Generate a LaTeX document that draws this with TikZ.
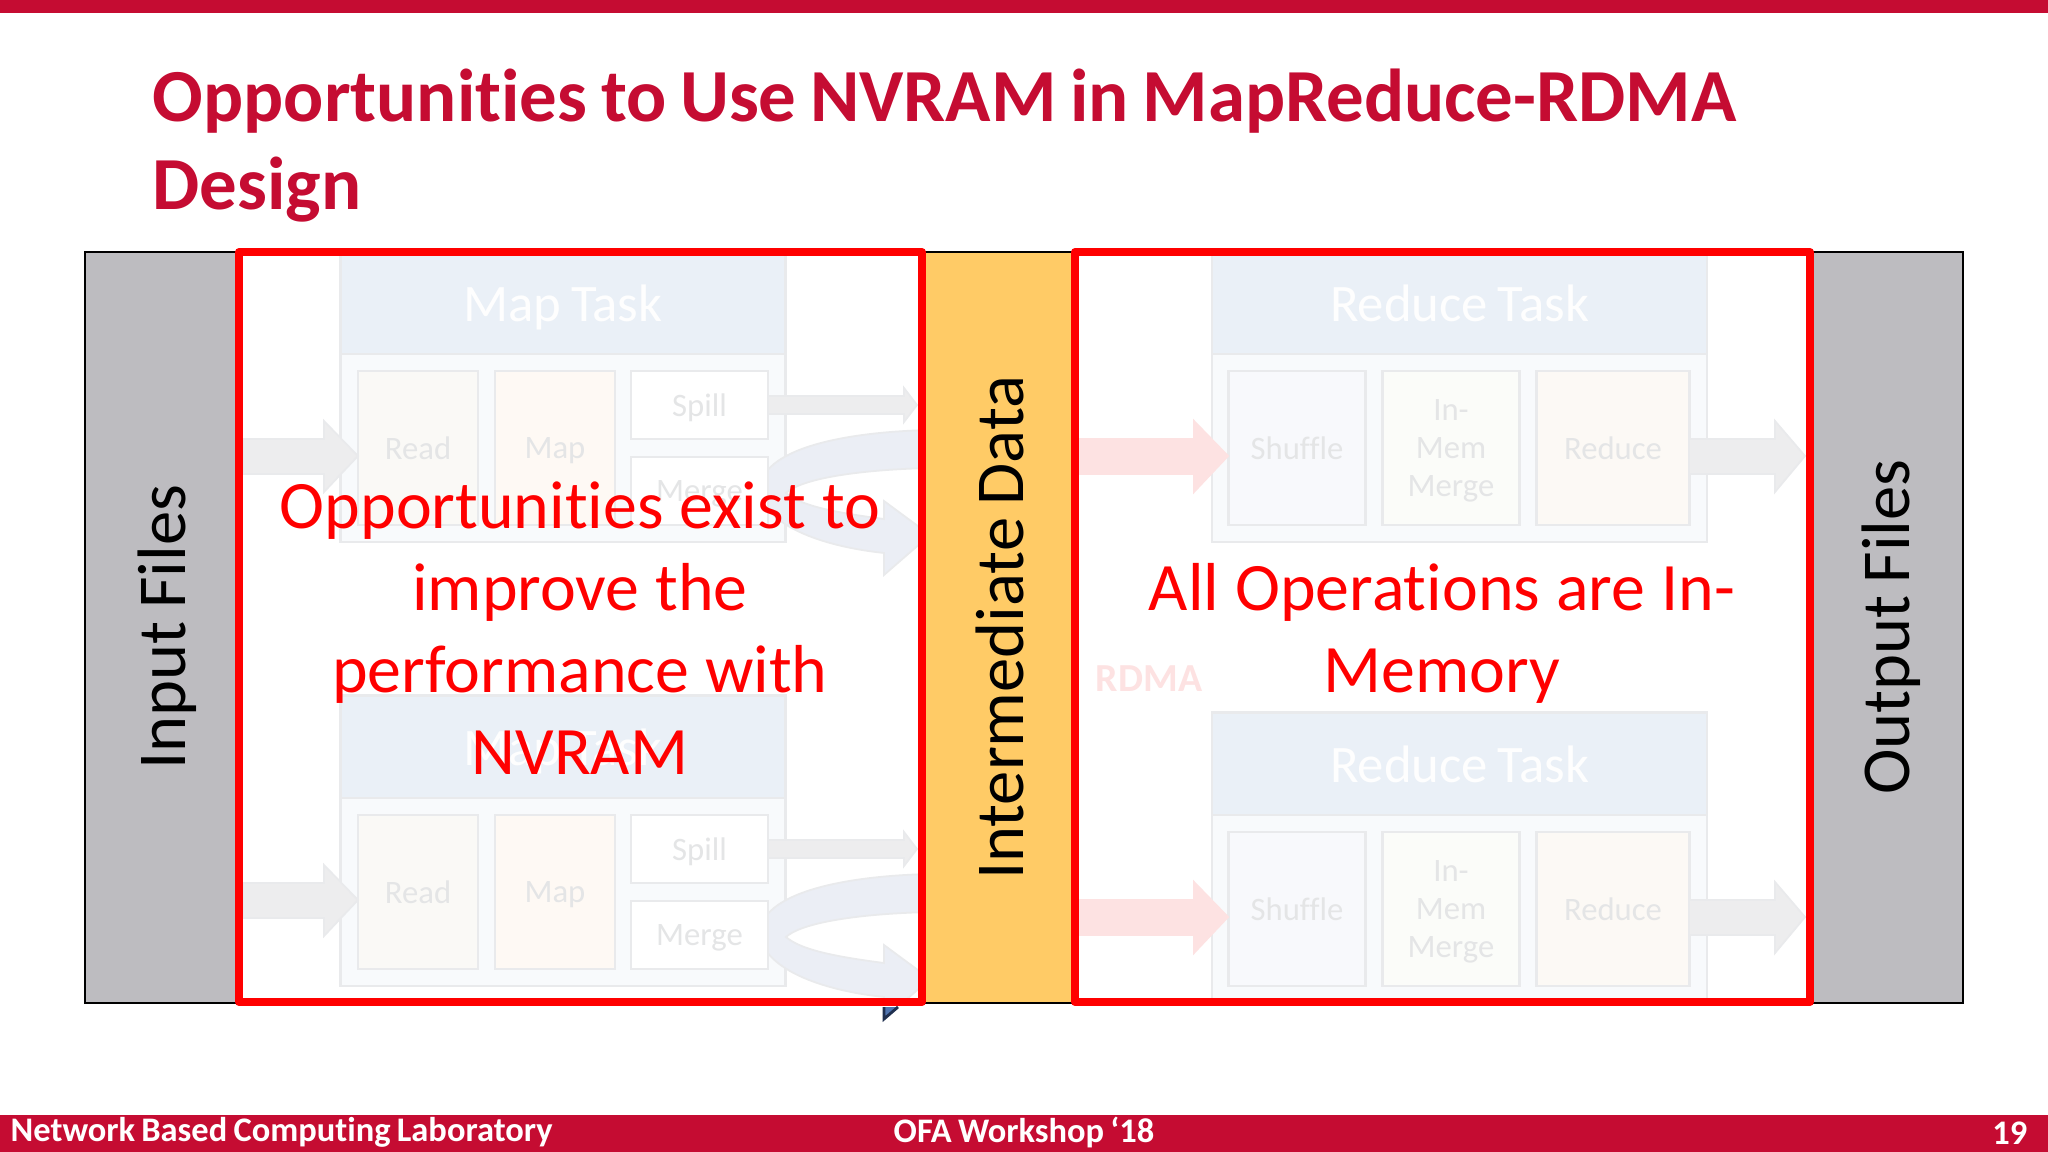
\documentclass[tikz,border=0pt]{standalone}
\usepackage{xcolor}
\usepackage{fontspec}
\setmainfont[Ligatures=NoCommon, WordSpace=0.8]{Carlito}
\newfontfamily\redfont[Ligatures=NoCommon, WordSpace=1.05]{Carlito}
\usetikzlibrary{positioning}

\definecolor{barred}{HTML}{C50C32}
\definecolor{sidegray}{HTML}{BDBCC0}
\definecolor{dataorange}{HTML}{FFCB66}
\definecolor{paleline}{HTML}{E9EAEC}
\definecolor{paletext}{HTML}{E4E5E6}
\definecolor{headfill}{HTML}{EAF0F7}
\definecolor{bodyfill}{HTML}{F8FAFC}
\definecolor{arrowgray}{HTML}{EDEDEE}
\definecolor{arrowpink}{HTML}{FDE2E2}
\definecolor{curvefill}{HTML}{EBEEF5}
\definecolor{readfill}{HTML}{FAF9F6}
\definecolor{mapfill}{HTML}{FEF9F4}
\definecolor{shufflefill}{HTML}{F8F9FC}
\definecolor{memfill}{HTML}{FBFCF9}
\definecolor{reducefill}{HTML}{FCF9F5}
\definecolor{tipfill}{HTML}{4F74B0}
\definecolor{tipline}{HTML}{1F2F4F}

\tikzset{
    taskhead/.style={draw=paleline, fill=headfill, line width=0.6pt, outer sep=0pt, minimum width=#1, minimum height=103*0.01cm, inner sep=0pt, text=white!95!headfill, text height=2.5ex, text depth=0.3ex, font=\fontsize{15}{17}\selectfont},
    taskbody/.style={draw=paleline, fill=bodyfill, line width=0.6pt, outer sep=0pt, minimum width=#1, minimum height=188*0.01cm, inner sep=0pt},
    stepbox/.style={draw=paleline, line width=0.6pt, outer sep=0pt, inner sep=0pt, text=paletext, text depth=0pt, align=center, font=\fontsize{9.3}{10.8}\selectfont},
    blockarrow/.style={fill=arrowgray, draw=paleline, line width=0.5pt},
    sidelabel/.style={rotate=90, inner sep=0pt, text=black, font=\fontsize{19.5}{23}\selectfont},
    redlabel/.style={align=flush center, inner sep=0pt, text=red, font=\redfont\fontsize{19.3}{23.3}\selectfont},
    footlabel/.style={inner sep=0pt, text=white, font=\bfseries\fontsize{9.8}{11}\selectfont}
}

\begin{document}
\begin{tikzpicture}[x=0.01cm, y=-0.01cm]
        \useasboundingbox (0,0) rectangle (2048,1152);
        \fill [white] (0,0) rectangle (2048,1152);

        % Bars
        \fill [barred] (0,0) rectangle (2048,13);
        \fill [barred] (0,1115) rectangle (2048,1152);
        \node [footlabel, anchor=west] (lab) at (10,1132) {Network Based Computing Laboratory};
        \node [footlabel] (workshop) at (1024,1132) {OFA Workshop ‘18};
        \node [footlabel, anchor=east] (pagenum) at (2028,1133) {19};

        % Title
        \node [anchor=west, inner sep=0pt, text=barred, font=\bfseries\fontsize{21.3}{25}\selectfont] (title1) at (152,101) {Opportunities to Use NVRAM in MapReduce-RDMA};
        \node [anchor=west, inner sep=0pt, text=barred, font=\bfseries\fontsize{21.3}{25}\selectfont] (title2) at (152,190) {Design};

        % Frame
        \draw [black, line width=0.5pt, fill=sidegray] (85,252) rectangle (1963,1003);
        \fill [dataorange] (925,252) rectangle (1075,1003);
        \draw [black, line width=0.5pt] (85,252) rectangle (1963,1003);
        \node [sidelabel] (input) at (167,627) {Input Files};
        \node [sidelabel] (inter) at (1000,628) {Intermediate Data};
        \node [sidelabel] (output) at (1891,627) {Output Files};

        % Tip left outside the box
        \draw [fill=tipfill, draw=tipline, line width=0.8pt] (884,1007) -- (884,1019) -- (898,1007);

        \fill [white] (239,252) rectangle (922,1002);
        \fill [white] (1075,252) rectangle (1810,1002);

        % Map tasks
        \foreach \dy in {0,444} {
            \node [taskhead=445*0.01cm] (maphead\dy) at (563,303+\dy) {Map Task};
            \node [taskbody=445*0.01cm] (mapbody\dy) at (563,448+\dy) {};

            % Merge loop sits behind the boxes
            \begin{scope}
                \clip (243,256) rectangle (918,998);
                \draw [fill=curvefill, draw=paleline, line width=0.5pt, shift={(0,\dy)}]
                    (930,430) .. controls (840,432) and (760,450) .. (760,490)
                    .. controls (762,520) and (810,545) .. (884,553)
                    -- (884,575) -- (930,535) -- (884,501) -- (884,519)
                    .. controls (830,512) and (800,505) .. (786,493)
                    .. controls (800,480) and (850,470) .. (930,468) -- cycle;
            \end{scope}

            \node [stepbox, fill=readfill, minimum width=120*0.01cm, minimum height=154*0.01cm] (read\dy) at (418,448+\dy) {Read};
            \node [stepbox, fill=mapfill, minimum width=120*0.01cm, minimum height=154*0.01cm, right=17*0.01cm of read\dy] (map\dy) {Map};
            \node [stepbox, fill=white, minimum width=137*0.01cm, minimum height=68*0.01cm] (spill\dy) at (699.5,405+\dy) {Spill};
            \node [stepbox, fill=white, minimum width=137*0.01cm, minimum height=68*0.01cm] (merge\dy) at (699.5,491+\dy) {Merge};

            \coordinate (inmap\dy) at (358,456+\dy);
            \draw [blockarrow] (inmap\dy) -- ++(-34,-35) -- ++(0,18) -- ++(-81,0) -- ++(0,35) -- ++(81,0) -- ++(0,18) -- cycle;
            \coordinate (outspill\dy) at (917,405+\dy);
            \draw [blockarrow] (outspill\dy) -- ++(-13,-17) -- ++(0,8) -- ++(-136,0) -- ++(0,18) -- ++(136,0) -- ++(0,8) -- cycle;
        }

        % Reduce tasks
        \foreach \dy in {0,461} {
            \node [taskhead=495*0.01cm] (redhead\dy) at (1459.5,303+\dy) {Reduce Task};
            \node [taskbody=495*0.01cm] (redbody\dy) at (1459.5,448+\dy) {};
            \node [stepbox, fill=shufflefill, minimum width=137*0.01cm, minimum height=154*0.01cm] (shuffle\dy) at (1297,448+\dy) {Shuffle};
            \node [stepbox, fill=memfill, minimum width=137*0.01cm, minimum height=154*0.01cm, right=17*0.01cm of shuffle\dy] (inmem\dy) {In-\\Mem\\Merge};
            \node [stepbox, fill=reducefill, minimum width=153*0.01cm, minimum height=154*0.01cm, right=17*0.01cm of inmem\dy] (reduce\dy) {Reduce};

            \coordinate (inred\dy) at (1228,456+\dy);
            \draw [blockarrow, fill=arrowpink, draw=arrowpink] (inred\dy) -- ++(-34,-35) -- ++(0,18) -- ++(-114,0) -- ++(0,35) -- ++(114,0) -- ++(0,18) -- cycle;
            \coordinate (outred\dy) at (1805,456+\dy);
            \draw [blockarrow] (outred\dy) -- ++(-30,-35) -- ++(0,18) -- ++(-86,0) -- ++(0,35) -- ++(86,0) -- ++(0,18) -- cycle;
        }
        \node [inner sep=0pt, text=arrowpink, font=\bfseries\fontsize{11.3}{13}\selectfont] (rdma) at (1149,679) {RDMA};

        % Red boxes
        \draw [red, line width=8*0.01cm, line join=round] (239,252) rectangle (922,1002);
        \draw [red, line width=8*0.01cm, line join=round] (1075,252) rectangle (1810,1002);
        \node [redlabel, text width=660*0.01cm] (opplabel) at (580,628) {Opportunities exist to\\improve the\\performance with\\NVRAM};
        \node [redlabel, text width=680*0.01cm] (memlabel) at (1442,633) {All Operations are In-\\Memory};
\end{tikzpicture}
\end{document}
